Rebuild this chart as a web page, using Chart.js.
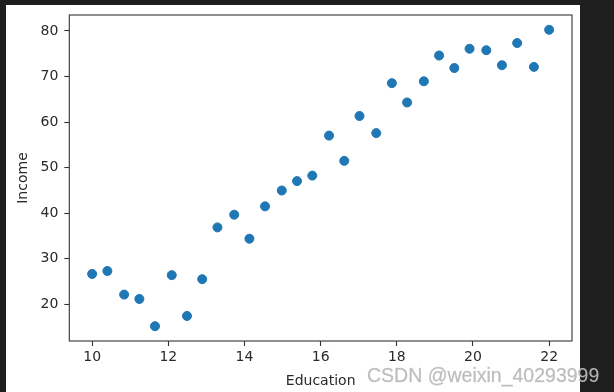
<!DOCTYPE html>
<html>
<head>
<meta charset="utf-8">
<script src="https://cdn.jsdelivr.net/npm/chart.js@4/dist/chart.umd.min.js"></script>
<style>
  html, body { margin: 0; padding: 0; background: #1e1e1e; }
  #wrap { width: 614px; height: 392px; position: relative; }
</style>
</head>
<body>
<div id="wrap"><canvas id="chart" width="614" height="392"></canvas></div>
<script>
'use strict'

const education = [
  10.00, 10.40, 10.84, 11.24, 11.65, 12.09, 12.49, 12.89, 13.29, 13.73,
  14.13, 14.54, 14.98, 15.38, 15.78, 16.22, 16.62, 17.02, 17.46, 17.87,
  18.27, 18.71, 19.11, 19.51, 19.91, 20.35, 20.76, 21.16, 21.60, 22.00
]
const income = [
  26.66, 27.31, 22.13, 21.17, 15.19, 26.40, 17.44, 25.51, 36.88, 39.67,
  34.40, 41.50, 44.98, 47.04, 48.25, 57.03, 51.49, 61.34, 57.58, 68.55,
  64.31, 68.96, 74.61, 71.87, 76.10, 75.78, 72.49, 77.36, 72.12, 80.26
]
const xTicks = [10, 12, 14, 16, 18, 20, 22]
const yTicks = [20, 30, 40, 50, 60, 70, 80]

const points = education.map((x, i) => ({ x, y: income[i] }))

const textColor = '#2a2a2a'
const font = { family: 'DejaVu Sans', size: 14 }

// white figure background + frame + watermark
const figure = {
  id: 'figure',
  beforeDraw (chart) {
    const ctx = chart.ctx
    ctx.save()
    ctx.fillStyle = '#1e1e1e'
    ctx.fillRect(0, 0, chart.width, chart.height)
    ctx.fillStyle = '#ffffff'
    ctx.fillRect(6, 5, 574, 387)
    ctx.restore()
  },
  afterDraw (chart) {
    const ctx = chart.ctx
    const a = chart.chartArea
    ctx.save()
    ctx.strokeStyle = '#333333'
    ctx.lineWidth = 1.1
    ctx.strokeRect(a.left, a.top, a.right - a.left, a.bottom - a.top)
    ctx.font = '19.5px "Liberation Sans"'
    ctx.textBaseline = 'alphabetic'
    ctx.fillStyle = 'rgba(185,185,185,0.95)'
    ctx.strokeStyle = 'rgba(140,140,140,0.35)'
    ctx.lineWidth = 0.4
    ctx.strokeText('CSDN @weixin_40293999', 367, 381.5)
    ctx.fillText('CSDN @weixin_40293999', 367, 381.5)
    ctx.restore()
  }
}

new Chart(document.getElementById('chart'), {
  type: 'scatter',
  data: {
    datasets: [
      {
        data: points,
        backgroundColor: '#1f77b4',
        borderColor: '#1f77b4',
        borderWidth: 1,
        pointRadius: 4.5,
        pointHoverRadius: 4.5
      }
    ]
  },
  plugins: [figure],
  options: {
    responsive: false,
    animation: false,
    events: [],
    layout: {
      padding: { left: 0, right: 42, top: 15, bottom: 0 }
    },
    plugins: {
      legend: { display: false },
      tooltip: { enabled: false }
    },
    scales: {
      x: {
        type: 'linear',
        min: 9.4,
        max: 22.6,
        afterBuildTicks: (scale) => { scale.ticks = xTicks.map(v => ({ value: v })) },
        afterFit: (scale) => { scale.height = 51 },
        border: { display: false },
        grid: {
          drawOnChartArea: false,
          drawTicks: true,
          tickLength: 5,
          tickWidth: 1.1,
          tickColor: '#333333'
        },
        ticks: { color: textColor, font, padding: 3, maxRotation: 0 },
        title: {
          display: true,
          text: 'Education',
          color: textColor,
          font,
          padding: { top: 0, bottom: 2 }
        }
      },
      y: {
        min: 11.94,
        max: 83.51,
        afterBuildTicks: (scale) => { scale.ticks = yTicks.map(v => ({ value: v })) },
        afterFit: (scale) => { scale.width = 69.3 },
        border: { display: false },
        grid: {
          drawOnChartArea: false,
          drawTicks: true,
          tickLength: 5,
          tickWidth: 1.1,
          tickColor: '#333333'
        },
        ticks: { color: textColor, font, padding: 6 },
        title: {
          display: true,
          text: 'Income',
          color: textColor,
          font,
          padding: { top: 15, bottom: 0 }
        }
      }
    }
  }
})
</script>
</body>
</html>
